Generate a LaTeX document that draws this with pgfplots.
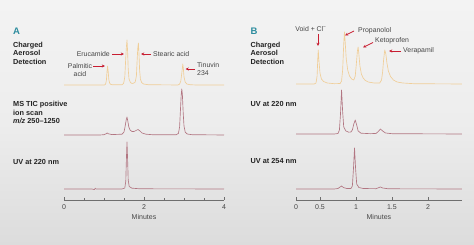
\documentclass[border=0pt]{standalone}
\usepackage{fontspec}
\setmainfont{Liberation Sans}
\usepackage{pgfplots}
\pgfplotsset{compat=1.18}
\usepackage{pgfplotstable}
\usetikzlibrary{arrows.meta}

\definecolor{cad}{RGB}{240,206,152}
\definecolor{mauve}{RGB}{178,118,130}
\definecolor{arrred}{RGB}{200,30,50}
\definecolor{anntext}{RGB}{70,70,70}
\definecolor{lbltext}{RGB}{35,35,35}
\definecolor{axgray}{RGB}{110,110,110}
\definecolor{teal}{RGB}{44,140,158}

% Panel A: Charged Aerosol Detection
\pgfplotstableread{
t v
0 0
0.5 0
1.01 0
1.04 0.9
1.06 4.7
1.075 13.3
1.09 19
1.105 13.3
1.12 5.7
1.14 1.9
1.17 0.6
1.21 0.2
1.45 0.3
1.49 1.5
1.52 8
1.545 28
1.56 38
1.575 45
1.59 34
1.605 16
1.625 6
1.66 2.5
1.70 1.5
1.74 1.8
1.78 3
1.81 9
1.83 26
1.845 37
1.86 42
1.875 31
1.89 15
1.91 6
1.94 2.5
1.99 1
2.1 0.3
2.85 0
2.89 0.9
2.92 4
2.945 12
2.97 21
2.985 16
3.0 8
3.03 3
3.07 1
3.15 0.3
3.3 0
4 0
}\cadA
% Panel A: MS TIC
\pgfplotstableread{
t v
0 0
0.9 0
1.0 0.3
1.05 1.2
1.08 2
1.11 1.2
1.2 0.4
1.45 0.8
1.5 3
1.53 9
1.555 15
1.575 18
1.595 14
1.62 8
1.65 5
1.7 3.5
1.75 3.5
1.8 4.5
1.85 5.5
1.9 4
1.95 2
2.05 0.8
2.2 0.3
2.8 0.2
2.86 1.5
2.89 8
2.91 24
2.93 40
2.945 46
2.96 40
2.98 22
3.0 9
3.03 3
3.08 1
3.2 0.3
4 0
}\msA
% Panel A: UV 220
\pgfplotstableread{
t v
0 0
0.7 0
0.76 -0.6
0.78 0.8
0.8 0
1.45 0
1.52 1
1.545 8
1.56 30
1.575 47
1.59 30
1.605 9
1.63 2.5
1.7 0.8
1.9 0.2
4 0
}\uvA
% Panel B: CAD
\pgfplotstableread{
t v
0.167 0
0.42 0
0.445 1
0.46 8
0.47 26
0.476 34
0.485 24
0.5 11
0.52 5
0.55 2.5
0.6 1
0.7 0.3
0.78 0.5
0.80 3
0.815 14
0.83 40
0.84 52
0.85 42
0.865 25
0.885 14
0.91 8
0.94 5
0.97 4
0.99 8
1.005 20
1.02 33
1.03 37
1.04 30
1.055 18
1.075 10
1.1 6
1.13 3.5
1.17 2
1.25 1
1.33 1
1.355 4
1.37 12
1.385 25
1.40 34
1.415 30
1.43 21
1.45 13
1.48 7.5
1.52 4
1.57 2
1.65 1
1.8 0.3
2.47 0
}\cadB
% Panel B: UV 220
\pgfplotstableread{
t v
0.167 0
0.7 0
0.75 0.5
0.77 4
0.785 20
0.8 44
0.815 22
0.83 7
0.86 3
0.9 1.8
0.93 2
0.95 4
0.97 10
0.99 14
1.01 9
1.03 3
1.07 0.8
1.2 0.3
1.28 0.6
1.31 2.5
1.34 5
1.37 3
1.41 1
1.5 0.3
2.47 0
}\uvBa
% Panel B: UV 254
\pgfplotstableread{
t v
0.167 0
0.7 0
0.75 0.5
0.78 2
0.80 3
0.825 1.5
0.87 0.5
0.93 0.5
0.95 3
0.965 20
0.98 41
0.995 20
1.01 5
1.04 1.5
1.1 0.5
1.28 0.3
1.32 1.5
1.34 2
1.37 1
1.45 0.2
2.47 0
}\uvBb

\pgfplotsset{
  chromo/.style={
    scale only axis, height=175pt, ymin=0, ymax=175,
    enlargelimits=false, clip=false,
    axis x line=bottom, axis y line=none,
    x axis line style={-, axgray, line width=0.6pt},
    tick align=inside, major tick length=3pt, minor tick length=2pt,
    every tick/.style={axgray, line width=0.5pt},
    ticklabel style={font=\fontsize{7}{8}\selectfont, text=anntext},
    xticklabel style={yshift=-1pt},
    xlabel={Minutes},
    xlabel style={font=\fontsize{7}{8}\selectfont, text=anntext, yshift=1.5pt},
    /pgf/number format/assume math mode=true,
  },
  trace/.style={line width=0.65pt, line join=round},
}

\begin{document}
\begin{tikzpicture}
\useasboundingbox (0pt,0pt) rectangle (474pt,245pt);
\shade[top color={rgb,255:red,243;green,243;blue,243}, bottom color={rgb,255:red,220;green,220;blue,220}, middle color={rgb,255:red,237;green,237;blue,237}] (0pt,0pt) rectangle (474pt,245pt);

% ---------- Panel A ----------
\begin{axis}[chromo, at={(64pt,45pt)}, anchor=south west, width=160pt,
  xmin=0, xmax=4, xtick={0,2,4}, xticklabels={0,2,4},
  minor xtick={0.5,1,1.5,2.5,3,3.5}]
\addplot[trace, cad] table[x=t, y expr=\thisrow{v}+115] {\cadA};
\addplot[trace, mauve] table[x=t, y expr=\thisrow{v}+65] {\msA};
\addplot[trace, mauve] table[x=t, y expr=\thisrow{v}+11] {\uvA};
\end{axis}

% ---------- Panel B ----------
\begin{axis}[chromo, at={(296pt,45pt)}, anchor=south west, width=165.8pt,
  xmin=0.167, xmax=2.47, xtick={0.167,0.5,1,1.5,2}, xticklabels={0,0.5,1,1.5,2}]
\addplot[trace, cad] table[x=t, y expr=\thisrow{v}+116] {\cadB};
\addplot[trace, mauve] table[x=t, y expr=\thisrow{v}+66] {\uvBa};
\addplot[trace, mauve] table[x=t, y expr=\thisrow{v}+11] {\uvBb};
\end{axis}

\begin{scope}[x=1pt,y=1pt]
% ---------- side labels ----------
\tikzset{side/.style={anchor=north west, inner sep=0pt, align=left, text=lbltext,
  font=\fontsize{7.3}{8.3}\selectfont\bfseries},
  plab/.style={anchor=base west, inner sep=0pt, text=teal, font=\fontsize{9.5}{10}\selectfont\bfseries},
  ann/.style={inner sep=0pt, text=anntext, font=\fontsize{6.9}{8}\selectfont},
  arr/.style={arrred, line width=0.8pt, -{Stealth[length=3.2pt,width=3pt]}}}
\node[plab] at (13,210) {A};
\node[side] at (13,203) {Charged\\Aerosol\\Detection};
\node[side] at (13,143.5) {MS TIC positive\\ion scan\\\textit{m/z} 250–1250};
\node[side] at (13,85.5) {UV at 220 nm};

\node[plab] at (250.5,210) {B};
\node[side] at (250.5,203) {Charged\\Aerosol\\Detection};
\node[side] at (250.5,143.5) {UV at 220 nm};
\node[side] at (250.5,86.5) {UV at 254 nm};

% ---------- annotations A ----------
\node[ann, anchor=east] at (110,191) {Erucamide};
\draw[arr] (112,191) -- (124,191);
\node[ann, anchor=west] at (153,191) {Stearic acid};
\draw[arr] (151,191) -- (141,191);
\node[ann, align=center] at (80,174.5) {Palmitic\\acid};
\draw[arr] (93,179) -- (105,179);
\node[ann, align=left, anchor=west] at (197,175.5) {Tinuvin\\234};
\draw[arr] (195,176) -- (185.5,176);

% ---------- annotations B ----------
\node[ann] at (311,216) {Void + Cl\textsuperscript{−}};
\draw[arr] (318,211) -- (318,199);
\node[ann, anchor=west] at (358,214) {Propanolol};
\draw[arr] (354,214) -- (345,209.5);
\node[ann, anchor=west] at (375,204) {Ketoprofen};
\draw[arr] (373,202.5) -- (363,197.5);
\node[ann, anchor=west] at (403,194) {Verapamil};
\draw[arr] (401,194) -- (389,194);
\end{scope}
\end{tikzpicture}
\end{document}
